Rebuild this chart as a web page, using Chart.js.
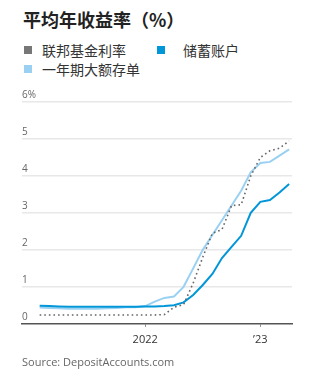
<!DOCTYPE html>
<html>
<head>
<meta charset="utf-8">
<script src="https://cdn.jsdelivr.net/npm/chart.js@4.4.1/dist/chart.umd.min.js"></script>
<style>
  html, body { margin: 0; padding: 0; background: #fff; }
  body { width: 314px; height: 381px; position: relative; overflow: hidden; }
  .title {
    position: absolute; left: 23px; top: 7px;
    font: bold 18px "Noto Sans CJK SC", sans-serif; color: #222; line-height: 24px;
  }
  .legend-item {
    position: absolute; font: 14px "Noto Sans CJK SC", sans-serif; color: #333;
    line-height: 18px; white-space: nowrap;
  }
  .legend-item i {
    position: absolute; left: 0; top: 5px; width: 8px; height: 8px;
  }
  .source {
    position: absolute; left: 22px; top: 354px;
    font: 11px "Open Sans", sans-serif; color: #666;
  }
  #wrap { position: absolute; left: 0; top: 85px; width: 314px; height: 275px; }
</style>
</head>
<body>
<div class="title">平均年收益率（%）</div>
<div class="legend-item" style="left:24px;top:41px;"><i style="background:#777"></i><span style="margin-left:18px">联邦基金利率</span></div>
<div class="legend-item" style="left:157px;top:41px;"><i style="background:#0096d8"></i><span style="margin-left:26px">储蓄账户</span></div>
<div class="legend-item" style="left:24px;top:60px;"><i style="background:#9ad1f2"></i><span style="margin-left:18px">一年期大额存单</span></div>
<div id="wrap"><canvas id="chart"></canvas></div>
<div class="source">Source: DepositAccounts.com</div>
<script>
// month index: 1 = Feb 2021, 12 = Jan 2022, 24 = Jan 2023
const months = [1, 2, 3, 4, 5, 6, 7, 8, 9, 10, 11, 12, 13, 14, 15, 16, 17, 18, 19, 20, 21, 22, 23, 24, 25, 26, 27];
const fedFunds = [0.24, 0.24, 0.24, 0.24, 0.24, 0.24, 0.24, 0.24, 0.24, 0.24, 0.24, 0.24, 0.24, 0.25, 0.45, 0.52, 1.1, 1.8, 2.45, 2.55, 3.2, 3.22, 4.0, 4.5, 4.68, 4.75, 4.95];
const savings = [0.49, 0.48, 0.47, 0.46, 0.46, 0.46, 0.46, 0.46, 0.46, 0.46, 0.46, 0.47, 0.47, 0.48, 0.5, 0.58, 0.78, 1.05, 1.35, 1.78, 2.08, 2.38, 3.0, 3.3, 3.35, 3.55, 3.78];
const cd1yr = [0.44, 0.43, 0.42, 0.41, 0.41, 0.41, 0.41, 0.42, 0.43, 0.45, 0.45, 0.48, 0.6, 0.7, 0.74, 1.0, 1.5, 2.0, 2.4, 2.8, 3.2, 3.6, 4.1, 4.35, 4.38, 4.55, 4.72];
const xTickValues = [12, 24];
const xTickLabels = ["2022", "’23"];
const yTickValues = [0, 1, 2, 3, 4, 5, 6];

const toPoints = arr => arr.map((v, i) => ({ x: months[i], y: v }));

// eslint-disable-next-line no-new
new Chart(document.getElementById("chart"), {
  type: "line",
  data: {
    datasets: [
      {
        label: "联邦基金利率",
        data: toPoints(fedFunds),
        borderColor: "#666",
        borderWidth: 1.6,
        borderDash: [1.6, 3],
        pointRadius: 0,
        order: 0
      },
      {
        label: "储蓄账户",
        data: toPoints(savings),
        borderColor: "#0096d8",
        borderWidth: 2,
        pointRadius: 0,
        order: 1
      },
      {
        label: "一年期大额存单",
        data: toPoints(cd1yr),
        borderColor: "#9ad1f2",
        borderWidth: 2,
        pointRadius: 0,
        order: 2
      }
    ]
  },
  options: {
    animation: false,
    responsive: true,
    maintainAspectRatio: false,
    layout: { padding: { left: 22, right: 22, top: 17, bottom: 8 } },
    plugins: { legend: { display: false }, tooltip: { enabled: false } },
    scales: {
      x: {
        type: "linear",
        min: -0.84,
        max: 27.3,
        afterBuildTicks: axis => {
          axis.ticks = xTickValues.map(v => ({ value: v }));
        },
        ticks: {
          autoSkip: false,
          maxRotation: 0,
          padding: 6,
          color: "#333",
          font: { family: "Open Sans", size: 11 },
          callback: v => xTickLabels[xTickValues.indexOf(v)]
        },
        grid: { drawOnChartArea: false, tickLength: 3, color: "#888", lineWidth: 1 },
        border: { display: true, color: "#555", width: 1.5 }
      },
      y: {
        min: 0,
        max: 6,
        afterBuildTicks: axis => {
          axis.ticks = yTickValues.map(v => ({ value: v }));
        },
        ticks: {
          mirror: true,
          padding: 0,
          labelOffset: -7,
          color: "#666",
          font: { family: "Open Sans", size: 10 },
          callback: v => (v === 6 ? "6%" : String(v))
        },
        grid: {
          drawTicks: false,
          color: ctx => (ctx.tick && ctx.tick.value === 0 ? "rgba(0,0,0,0)" : "#e8e8e8"),
          lineWidth: 1.5
        },
        border: { display: false }
      }
    }
  }
});
</script>
</body>
</html>
